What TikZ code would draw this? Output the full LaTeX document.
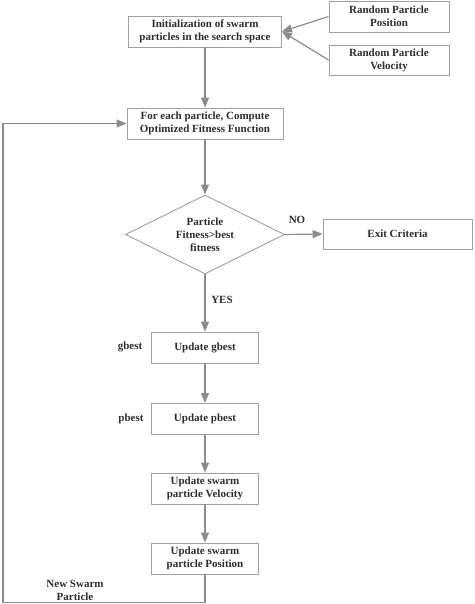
\documentclass[tikz,border=0pt]{standalone}
\usepackage{fontspec}
\setmainfont{Liberation Serif}
\definecolor{LineGray}{rgb}{0.55,0.55,0.55}
\definecolor{BoxGray}{rgb}{0.62,0.62,0.62}
\definecolor{TextGray}{rgb}{0.18,0.18,0.18}
\usetikzlibrary{arrows.meta, shapes.geometric, positioning}

\begin{document}
\begin{tikzpicture}[x=1pt, y=-1pt,
  every node/.style={font=\fontsize{11}{13}\selectfont\bfseries, text=TextGray, align=center},
  box/.style={draw=BoxGray, line width=0.9pt, inner sep=0pt, minimum height=31pt},
  flow/.style={draw=LineGray, line width=1.2pt, -{Triangle[length=10pt, width=8pt]}, LineGray}]
\useasboundingbox (0,0) rectangle (474,604);
%inputs
\node[box, minimum width=153pt] (init) at (205,31.5) {Initialization of swarm\\particles in the search space};
\node[box, minimum width=120pt, minimum height=31pt] (rpos) at (389,16.5) {Random Particle\\Position};
\node[box, minimum width=120pt, minimum height=30pt] (rvel) at (389,60) {Random Particle\\Velocity};
%main column
\node[box, minimum width=156pt] (fit) at (205,123.5) {For each particle, Compute\\Optimized Fitness Function};
\node[draw=BoxGray, line width=0.9pt, shape=diamond, aspect=2, inner sep=0pt, minimum width=159pt, minimum height=79pt] (test) at (205,234.5) {Particle\\Fitness>best\\fitness};
\node[box, minimum width=149pt, minimum height=30pt] (exit) at (397.5,234) {Exit Criteria};
\node[box, minimum width=107pt] (gbest) at (205,347.5) {Update gbest};
\node[box, minimum width=107pt] (pbest) at (205,419) {Update pbest};
\node[box, minimum width=107pt] (uvel) at (205,488.5) {Update swarm\\particle Velocity};
\node[box, minimum width=107pt] (upos) at (205,558.5) {Update swarm\\particle Position};
%labels
\node (no) at (297,220) {NO};
\node (yes) at (222,300) {YES};
\node (lg) at (130,347) {gbest};
\node (lp) at (131,419) {pbest};
\node (lnew) at (75,590) {New Swarm\\Particle};
%arrows
\draw[flow] (rpos.west) -- (init.east);
\draw[flow] (rvel.west) -- (init.east);
\draw[flow] (init) -- (fit);
\draw[flow] (fit) -- (test);
\draw[flow] (test.east) -- (exit.west);
\draw[flow] (test.south) -- (gbest.north);
\draw[flow] (gbest) -- (pbest);
\draw[flow] (pbest) -- (uvel);
\draw[flow] (uvel) -- (upos);
%loop back
\coordinate (loopbl) at (3,602.5);
\draw[flow] (upos.south) |- (loopbl) |- (fit.west);
\end{tikzpicture}
\end{document}
